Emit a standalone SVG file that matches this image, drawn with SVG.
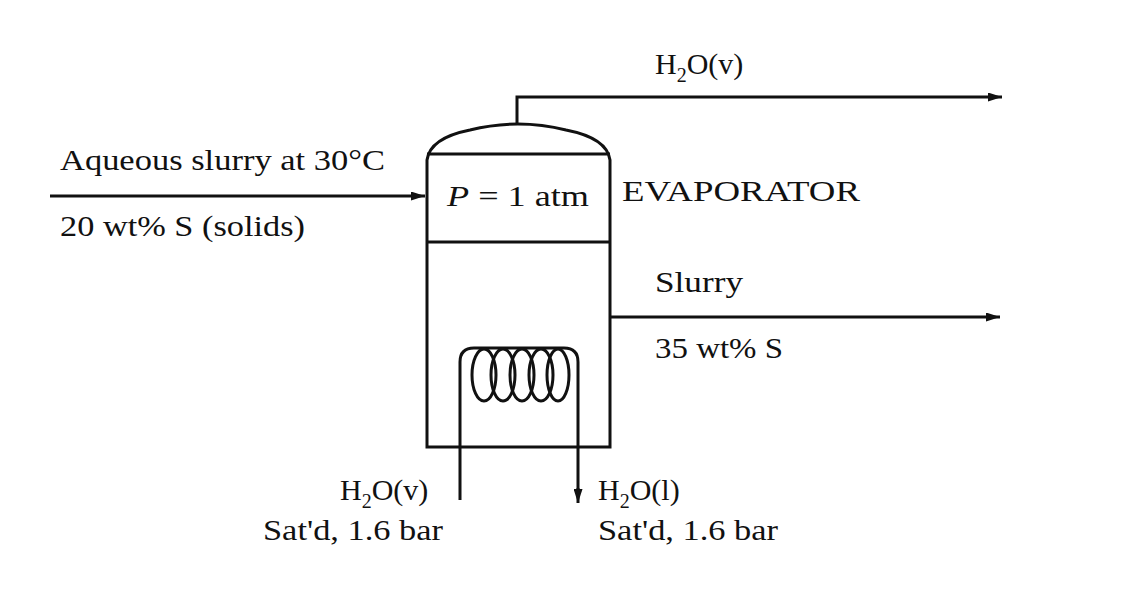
<svg xmlns="http://www.w3.org/2000/svg" width="1125" height="592" viewBox="0 0 1125 592">
<defs><marker id="ah" markerWidth="14" markerHeight="9" refX="14" refY="4.5" orient="auto" markerUnits="userSpaceOnUse"><path d="M0,0 L14,4.5 L0,9 Z" fill="#111"/></marker></defs>
<style>.l{stroke:#111;stroke-width:3;fill:none}.t{font-family:"Liberation Serif",serif;font-size:30px;fill:#111}</style>
<rect width="1125" height="592" fill="#fff"/>
<g id="evaporator">
<path class="l" d="M427,447 V160 Q430,138 470,130 Q518,118 566,130 Q607,138 610,160 V447 Z"/>
<line class="l" x1="427" y1="154" x2="610" y2="154"/>
<line class="l" x1="427" y1="242" x2="610" y2="242"/>
<text class="t" x="447" y="206" textLength="142" lengthAdjust="spacingAndGlyphs"><tspan font-style="italic">P</tspan> = 1 atm</text>
<text class="t" x="622" y="201" textLength="238" lengthAdjust="spacingAndGlyphs">EVAPORATOR</text>
</g>
<g id="coil">
<path class="l" d="M460,500 V362 Q460,348 474,348 H564 Q578,348 578,362 V496" />
<ellipse class="l" cx="484" cy="375" rx="12" ry="26"/>
<ellipse class="l" cx="503" cy="375" rx="12" ry="26"/>
<ellipse class="l" cx="522" cy="375" rx="12" ry="26"/>
<ellipse class="l" cx="541" cy="375" rx="12" ry="26"/>
<ellipse class="l" cx="558" cy="375" rx="11" ry="26"/>
</g>
<g id="connectors">
<line class="l" x1="50" y1="196" x2="425" y2="196" marker-end="url(#ah)"/>
<path class="l" d="M517,123 V97 H1002" marker-end="url(#ah)"/>
<line class="l" x1="610" y1="317" x2="1000" y2="317" marker-end="url(#ah)"/>
<line class="l" x1="578" y1="488" x2="578" y2="503" marker-end="url(#ah)"/>
</g>
<g id="labels">
<text class="t" x="655" y="74">H<tspan font-size="20" dy="8">2</tspan><tspan dy="-8">O(v)</tspan></text>
<text class="t" x="60" y="170" textLength="325" lengthAdjust="spacingAndGlyphs">Aqueous slurry at 30°C</text>
<text class="t" x="60" y="236" textLength="245" lengthAdjust="spacingAndGlyphs">20 wt% S (solids)</text>
<text class="t" x="655" y="292" textLength="88" lengthAdjust="spacingAndGlyphs">Slurry</text>
<text class="t" x="655" y="358" textLength="128" lengthAdjust="spacingAndGlyphs">35 wt% S</text>
<text class="t" x="340" y="500">H<tspan font-size="20" dy="8">2</tspan><tspan dy="-8">O(v)</tspan></text>
<text class="t" x="263" y="540" textLength="180" lengthAdjust="spacingAndGlyphs">Sat'd, 1.6 bar</text>
<text class="t" x="598" y="500">H<tspan font-size="20" dy="8">2</tspan><tspan dy="-8">O(l)</tspan></text>
<text class="t" x="598" y="540" textLength="180" lengthAdjust="spacingAndGlyphs">Sat'd, 1.6 bar</text>
</g>
</svg>
